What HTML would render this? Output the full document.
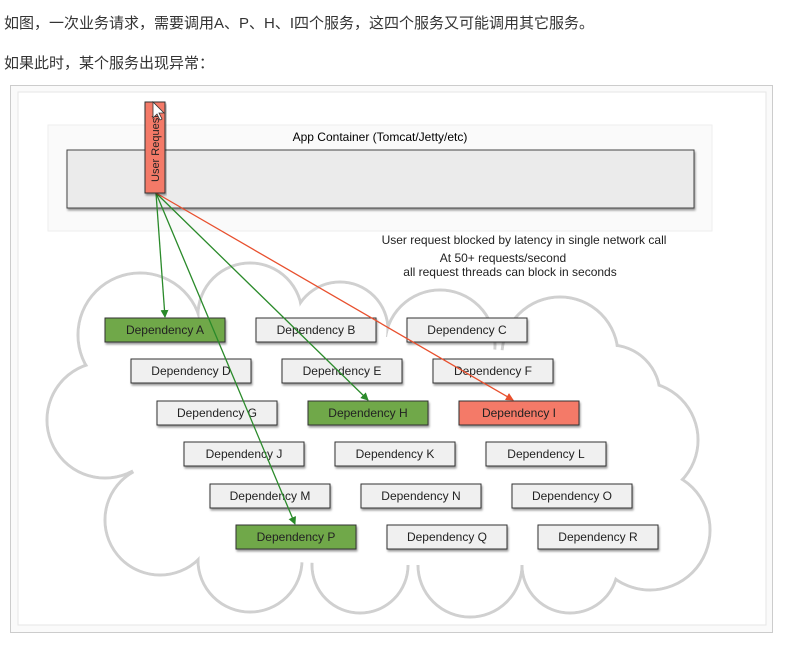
<!DOCTYPE html>
<html><head><meta charset="utf-8"><style>
body{margin:0;width:789px;height:649px;background:#fff;overflow:hidden;font-family:"Liberation Sans","Noto Sans CJK SC",sans-serif;}
.t{position:absolute;left:4px;font-size:15px;color:#333;}
</style></head><body>
<div class="t" style="top:12px">如图，一次业务请求，需要调用A、P、H、I四个服务，这四个服务又可能调用其它服务。</div>
<div class="t" style="top:52px">如果此时，某个服务出现异常：</div>
<svg style="position:absolute;left:0;top:0" width="789" height="649">
<defs>
<marker id="ag" markerWidth="8" markerHeight="8" refX="7" refY="4" orient="auto" markerUnits="userSpaceOnUse"><path d="M0,0L8,4L0,8z" fill="#2a8a2a"/></marker>
<marker id="ar" markerWidth="8" markerHeight="8" refX="7" refY="4" orient="auto" markerUnits="userSpaceOnUse"><path d="M0,0L8,4L0,8z" fill="#e8502e"/></marker>
<filter id="sh"><feDropShadow dx="1" dy="2" stdDeviation="1" flood-opacity="0.4"/></filter>
</defs>
<rect x="10.5" y="85.5" width="762" height="547" fill="#fafafa" stroke="#ccc"/>
<rect x="18" y="92" width="748" height="533" fill="#fff" stroke="#e6e6e6"/>
<rect x="48" y="125" width="664" height="106" fill="#fafafa" stroke="#eee"/>
<text x="380" y="141" font-size="12" text-anchor="middle" font-family="Liberation Sans">App Container (Tomcat/Jetty/etc)</text>
<rect x="67" y="150" width="627" height="58" fill="#ebebeb" stroke="#444" filter="url(#sh)"/>
<g fill="#fff" stroke="#d0d0d0" stroke-width="3">
<circle cx="140" cy="335" r="62"/><circle cx="250" cy="315" r="52"/><circle cx="340" cy="330" r="48"/><circle cx="440" cy="345" r="55"/><circle cx="560" cy="355" r="58"/><circle cx="610" cy="395" r="50"/>
<circle cx="105" cy="420" r="58"/><circle cx="640" cy="440" r="58"/><circle cx="160" cy="520" r="55"/><circle cx="650" cy="530" r="60"/>
<circle cx="250" cy="560" r="52"/><circle cx="360" cy="565" r="48"/><circle cx="470" cy="565" r="52"/><circle cx="570" cy="565" r="48"/>
</g>
<g fill="#fff">
<circle cx="140" cy="335" r="60.5"/><circle cx="250" cy="315" r="50.5"/><circle cx="340" cy="330" r="46.5"/><circle cx="440" cy="345" r="53.5"/><circle cx="560" cy="355" r="56.5"/><circle cx="610" cy="395" r="48.5"/>
<circle cx="105" cy="420" r="56.5"/><circle cx="640" cy="440" r="56.5"/><circle cx="160" cy="520" r="53.5"/><circle cx="650" cy="530" r="58.5"/>
<circle cx="250" cy="560" r="50.5"/><circle cx="360" cy="565" r="46.5"/><circle cx="470" cy="565" r="50.5"/><circle cx="570" cy="565" r="46.5"/>
<polygon points="140,335 250,315 340,330 440,345 560,355 610,395 640,440 650,530 570,565 470,565 360,565 250,560 160,520 105,420"/>
</g>
<g font-size="12" text-anchor="middle" font-family="Liberation Sans" stroke="#333">
<g filter="url(#sh)">
<rect x="105" y="318" width="120" height="24" fill="#6fa84a"/>
<rect x="256" y="318" width="120" height="24" fill="#f0f0f0"/>
<rect x="407" y="318" width="120" height="24" fill="#f0f0f0"/>
<rect x="131" y="359" width="120" height="24" fill="#f0f0f0"/>
<rect x="282" y="359" width="120" height="24" fill="#f0f0f0"/>
<rect x="433" y="359" width="120" height="24" fill="#f0f0f0"/>
<rect x="157" y="401" width="120" height="24" fill="#f0f0f0"/>
<rect x="308" y="401" width="120" height="24" fill="#6fa84a"/>
<rect x="459" y="401" width="120" height="24" fill="#f47a68"/>
<rect x="184" y="442" width="120" height="24" fill="#f0f0f0"/>
<rect x="335" y="442" width="120" height="24" fill="#f0f0f0"/>
<rect x="486" y="442" width="120" height="24" fill="#f0f0f0"/>
<rect x="210" y="484" width="120" height="24" fill="#f0f0f0"/>
<rect x="361" y="484" width="120" height="24" fill="#f0f0f0"/>
<rect x="512" y="484" width="120" height="24" fill="#f0f0f0"/>
<rect x="236" y="525" width="120" height="24" fill="#6fa84a"/>
<rect x="387" y="525" width="120" height="24" fill="#f0f0f0"/>
<rect x="538" y="525" width="120" height="24" fill="#f0f0f0"/>
</g>
<g stroke="none" fill="#222">
<text x="165" y="334">Dependency A</text><text x="316" y="334">Dependency B</text><text x="467" y="334">Dependency C</text>
<text x="191" y="375">Dependency D</text><text x="342" y="375">Dependency E</text><text x="493" y="375">Dependency F</text>
<text x="217" y="417">Dependency G</text><text x="368" y="417">Dependency H</text><text x="519" y="417">Dependency I</text>
<text x="244" y="458">Dependency J</text><text x="395" y="458">Dependency K</text><text x="546" y="458">Dependency L</text>
<text x="270" y="500">Dependency M</text><text x="421" y="500">Dependency N</text><text x="572" y="500">Dependency O</text>
<text x="296" y="541">Dependency P</text><text x="447" y="541">Dependency Q</text><text x="598" y="541">Dependency R</text>
</g>
</g>
<g stroke-width="1.3" fill="none">
<line x1="156" y1="193" x2="165" y2="317" stroke="#2a8a2a" marker-end="url(#ag)"/>
<line x1="156" y1="193" x2="295" y2="524" stroke="#2a8a2a" marker-end="url(#ag)"/>
<line x1="156" y1="193" x2="368" y2="400" stroke="#2a8a2a" marker-end="url(#ag)"/>
<line x1="156" y1="193" x2="513" y2="400" stroke="#e8502e" marker-end="url(#ar)"/>
</g>
<rect x="145" y="102" width="20" height="91" fill="#f47a68" stroke="#333" filter="url(#sh)"/>
<text transform="translate(159,182) rotate(-90)" font-size="11" font-family="Liberation Sans" fill="#222">User Request</text>
<path d="M153,102 L153,118 L157,114 L160,120 L162,119 L159,113 L164,113 Z" fill="#fff" stroke="#333" stroke-width="0.8"/>
<g font-size="12" text-anchor="middle" font-family="Liberation Sans" fill="#222">
<text x="524" y="244">User request blocked by latency in single network call</text>
<text x="503" y="262">At 50+ requests/second</text>
<text x="510" y="276">all request threads can block in seconds</text>
</g>
</svg>
</body></html>
